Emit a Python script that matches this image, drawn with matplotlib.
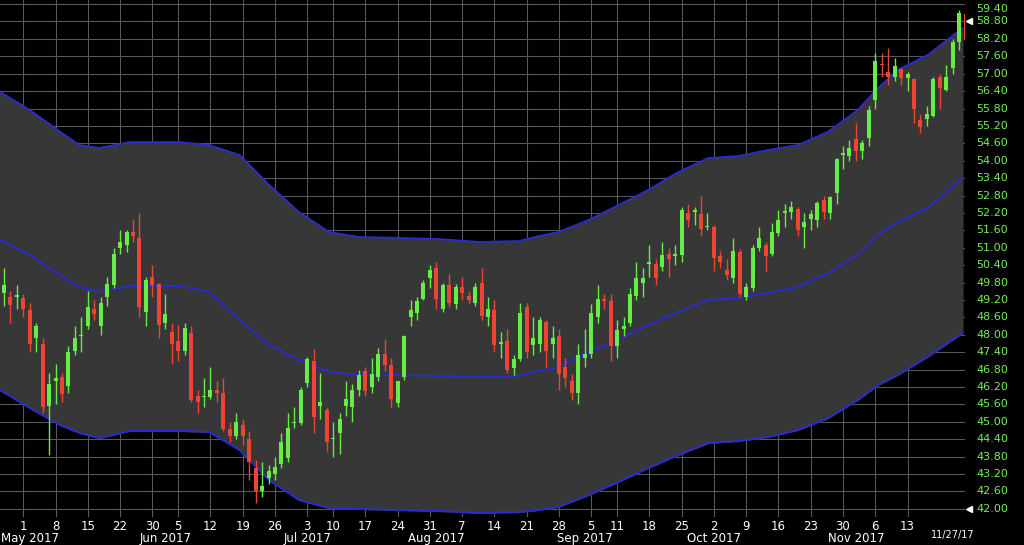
import matplotlib
matplotlib.use("Agg")
import matplotlib.pyplot as plt
import numpy as np
import pandas as pd

plt.rcParams['font.family'] = ['Liberation Sans Narrow', 'DejaVu Sans']

# daily candles, Apr 26 2017 .. Nov 27 2017
opens = [49.44, 49.3, 49.3, 49.27, 48.85, 47.9, 47.7, 45.55, 46.4, 46.55,
         46.25, 47.45, 47.95, 48.3, 48.88, 48.3, 49.3, 49.7, 51.0, 51.1,
         51.55, 51.35, 48.8, 50.0, 49.75, 48.4, 48.1, 47.8, 47.45, 48.05,
         45.9, 45.85, 45.85, 46.1, 46.0, 44.75, 44.5, 44.9, 44.4, 43.4,
         42.6, 43.05, 43.2, 43.55, 43.75, 44.95, 44.95, 46.35, 47.1, 45.55,
         45.4, 44.4, 44.6, 45.55, 45.5, 46.1, 46.75, 46.2, 46.55, 47.35,
         46.95, 45.65, 46.55, 48.6, 48.75, 49.25, 49.95, 50.3, 48.9, 49.7,
         49.05, 49.65, 49.35, 49.1, 49.8, 48.6, 48.85, 47.7, 47.8, 46.85,
         47.15, 48.95, 47.65, 47.7, 48.45, 47.7, 47.95, 46.9, 46.4, 46.0,
         47.2, 47.35, 48.6, 49.2, 49.15, 47.6, 48.2, 48.4, 49.35, 49.8,
         50.45, 50.45, 50.35, 50.8, 50.7, 50.75, 52.2, 52.25, 52.15, 51.7,
         51.7, 50.7, 50.25, 49.95, 50.85, 49.3, 49.6, 51.0, 51.1, 50.8,
         51.5, 52.2, 52.25, 52.35, 51.7, 52.0, 51.95, 52.65, 52.2, 52.9,
         54.2, 54.15, 54.75, 54.35, 54.8, 56.1, 57.35, 57.05, 56.9, 57.15,
         56.85, 56.8, 55.4, 55.45, 55.55, 56.9, 56.45, 57.2, 58.1, 59.05]
closes = [49.72, 49.03, 49.38, 48.9, 47.7, 48.3, 45.5, 46.3, 46.5, 45.95,
          47.4, 47.9, 48.0, 48.95, 48.7, 49.1, 49.75, 50.8, 51.2, 51.55,
          51.4, 48.95, 49.9, 49.7, 48.35, 48.7, 47.7, 47.45, 48.25, 45.75,
          45.7, 45.9, 46.1, 46.0, 44.75, 44.5, 45.0, 44.5, 43.6, 42.6,
          42.8, 43.3, 43.45, 44.3, 44.8, 45.0, 46.1, 47.15, 45.15, 45.7,
          44.3, 44.45, 45.1, 45.8, 46.1, 46.6, 46.05, 46.65, 47.35, 46.95,
          45.8, 46.4, 47.95, 48.85, 49.15, 49.8, 50.25, 49.25, 49.7, 49.1,
          49.65, 49.45, 49.2, 49.65, 48.65, 48.9, 47.65, 47.72, 46.8, 47.15,
          48.75, 47.4, 47.9, 48.5, 47.45, 47.9, 46.65, 46.5, 46.0, 47.3,
          47.35, 48.75, 49.25, 49.18, 47.6, 48.15, 48.3, 49.4, 49.95, 49.95,
          50.47, 49.95, 50.75, 50.6, 50.8, 52.3, 51.95, 52.28, 51.65, 51.75,
          50.65, 50.5, 50.05, 50.9, 49.4, 49.65, 51.0, 51.35, 50.7, 51.55,
          51.95, 52.25, 52.4, 51.6, 51.9, 52.15, 52.55, 52.25, 52.75, 54.05,
          54.2, 54.45, 54.35, 54.6, 55.75, 57.45, 57.3, 56.9, 57.25, 56.85,
          57.0, 55.8, 55.15, 55.6, 56.8, 56.5, 56.9, 58.1, 59.1, 58.2]
highs = [50.3, 49.5, 49.7, 49.4, 49.1, 48.4, 47.9, 46.7, 47.0, 46.7,
         47.6, 48.3, 48.6, 49.5, 49.2, 49.3, 50.0, 51.0, 51.6, 51.6,
         52.0, 52.2, 50.0, 50.4, 49.8, 49.4, 48.4, 48.35, 48.4, 48.3,
         46.1, 46.5, 46.9, 46.4, 46.5, 45.0, 45.3, 45.1, 44.7, 43.7,
         43.6, 43.5, 43.8, 44.6, 45.3, 45.5, 46.2, 47.25, 47.5, 46.7,
         45.5, 45.0, 45.3, 46.4, 46.3, 46.8, 46.9, 47.2, 47.55, 47.85,
         47.2, 46.4, 48.0, 49.2, 49.3, 49.9, 50.4, 50.5, 49.8, 50.1,
         49.75, 50.0, 49.5, 49.8, 50.3, 49.3, 49.2, 48.1, 48.2, 47.3,
         49.1, 49.1, 48.6, 48.6, 48.5, 48.3, 48.2, 47.2, 46.65, 47.7,
         48.2, 49.05, 49.7, 49.4, 49.4, 48.5, 48.6, 49.6, 50.5, 50.3,
         51.1, 50.6, 51.2, 51.0, 51.1, 52.4, 52.5, 52.4, 52.8, 52.2,
         51.8, 50.9, 50.6, 51.35, 50.95, 49.8, 51.1, 51.7, 51.2, 51.85,
         52.3, 52.5, 52.6, 52.4, 52.2, 52.3, 52.6, 52.8, 52.8, 54.1,
         54.5, 54.7, 55.3, 54.7, 55.9, 57.7, 57.7, 57.9, 57.55, 57.2,
         57.05, 56.85, 55.6, 55.9, 56.9, 57.0, 57.3, 58.2, 59.2, 59.1]
lows = [49.0, 48.4, 48.9, 48.6, 47.4, 47.4, 45.3, 43.85, 45.6, 45.7,
        46.0, 47.3, 47.4, 48.2, 48.5, 48.0, 49.0, 49.6, 50.8, 50.85,
        51.2, 48.6, 48.3, 49.3, 47.9, 48.2, 47.0, 47.1, 47.3, 45.7,
        45.3, 45.5, 45.8, 45.7, 44.7, 44.3, 44.4, 44.2, 43.0, 42.2,
        42.4, 42.85, 43.0, 43.4, 43.6, 44.8, 44.9, 46.2, 44.6, 45.1,
        44.0, 43.8, 43.9, 45.2, 45.0, 45.9, 45.9, 46.0, 46.4, 46.75,
        45.5, 45.5, 46.45, 48.3, 48.5, 49.2, 49.6, 48.9, 48.8, 48.95,
        48.9, 49.2, 49.1, 49.0, 48.5, 48.3, 47.4, 47.2, 46.7, 46.6,
        47.1, 47.2, 47.3, 47.4, 46.9, 47.2, 46.1, 46.2, 45.75, 45.6,
        46.9, 47.2, 48.4, 48.9, 47.1, 47.2, 47.95, 48.3, 49.2, 49.3,
        50.0, 49.7, 50.2, 50.0, 50.4, 50.5, 51.7, 51.8, 51.4, 51.6,
        50.2, 50.3, 49.9, 49.8, 49.3, 49.2, 49.5, 50.9, 50.2, 50.7,
        51.4, 51.7, 52.0, 51.4, 51.0, 51.6, 51.7, 52.0, 52.0, 52.5,
        53.7, 54.0, 54.0, 54.05, 54.5, 55.8, 56.9, 56.6, 56.75, 56.6,
        56.4, 55.3, 54.95, 55.2, 55.5, 55.8, 56.4, 57.0, 57.8, 57.6]

# bollinger bands read at trading-day positions
band_pos = [-0.6, 4.0, 8.7, 11.7, 14.8, 19.5, 27.2, 31.8, 36.5, 41.1, 45.7,
            50.4, 55.0, 61.2, 67.4, 73.6, 79.8, 82.8, 85.9, 90.6, 95.2, 99.8,
            104.5, 109.1, 113.8, 118.4, 123.0, 127.7, 132.3, 135.4, 138.5,
            143.1, 148.5]
upper = [56.37, 55.75, 55.0, 54.54, 54.44, 54.64, 54.64, 54.54, 54.2, 53.16,
         52.23, 51.54, 51.37, 51.34, 51.3, 51.2, 51.23, 51.4, 51.54, 51.96,
         52.47, 52.99, 53.61, 54.09, 54.16, 54.37, 54.54, 55.0, 55.75, 56.5,
         57.13, 57.64, 58.57]
middle = [51.27, 50.75, 50.06, 49.65, 49.48, 49.68, 49.68, 49.48, 48.51, 47.65,
          47.13, 46.72, 46.61, 46.61, 46.58, 46.54, 46.58, 46.75, 46.89, 47.41,
          47.82, 48.34, 48.79, 49.2, 49.27, 49.44, 49.65, 50.13, 50.75, 51.44,
          51.89, 52.37, 53.4]
lower = [46.1, 45.48, 44.89, 44.62, 44.44, 44.69, 44.69, 44.65, 44.03, 42.99,
         42.31, 42.03, 42.0, 41.96, 41.93, 41.86, 41.89, 41.96, 42.07, 42.48,
         42.93, 43.41, 43.86, 44.27, 44.34, 44.48, 44.72, 45.13, 45.76, 46.27,
         46.62, 47.24, 48.06]

holidays = pd.to_datetime(["2017-05-29", "2017-07-04", "2017-09-04", "2017-11-23"])
days = pd.bdate_range("2017-03-01", "2017-11-27")
days = days[~days.isin(holidays)][-len(closes):]

fig = plt.figure(figsize=(10.24, 5.45), dpi=100, facecolor="black")
ax = fig.add_axes([0, 28 / 545, 965 / 1024, 517 / 545], facecolor="black")

x = np.arange(len(closes))
ax.fill_between(band_pos, lower, upper, color="#373737", zorder=1)
for band in (upper, middle, lower):
    ax.plot(band_pos, band, color="#2a2ad8", lw=1.3, zorder=3)

price_ticks = np.round(np.arange(42.0, 59.41, 0.6), 2)
ax.set_yticks(price_ticks)
ax.set_ylim(41.72, 59.54)
ax.set_xlim(-0.6, 148.9)

# week ticks (first trading day of each week) and month starts
wk = pd.Series(days).dt.isocalendar().week.values
week_idx = [i for i in range(1, len(days)) if wk[i] != wk[i - 1] and days[i] >= pd.Timestamp("2017-05-01")]
week_idx = [i for i in week_idx if days[i] <= pd.Timestamp("2017-11-17")]
mon = np.array([d.month for d in days])
month_idx = [i for i in range(1, len(days)) if mon[i] != mon[i - 1]]

ax.set_xticks(week_idx)
ax.set_xticklabels([])
ax.tick_params(length=0)
ax.set_yticklabels([])
ax.grid(True, color="#585858", lw=0.8, zorder=0)
ax.set_axisbelow(True)
for s in ax.spines.values():
    s.set_visible(False)

up = "#66ee44"
dn = "#ee4433"
for i in x:
    c = up if closes[i] >= opens[i] else dn
    ax.vlines(i, lows[i], highs[i], color=c, lw=1.0, zorder=4)
    lo, hi = sorted((opens[i], closes[i]))
    ax.bar(i, max(hi - lo, 0.05), bottom=lo, width=0.62, color=c, zorder=5)

tr = ax.get_xaxis_transform()
for i in week_idx:
    ax.text(i, -3 / 517, str(days[i].day), transform=tr, color="white",
            fontsize=8.5, ha="center", va="top", clip_on=False)
for k, i in enumerate(month_idx):
    ax.text(i if k else -0.4, -15 / 517, days[i].strftime("%b %Y"), transform=tr,
            color="white", fontsize=8.5, ha="center" if k else "left", va="top",
            clip_on=False)
ax.text(len(closes) - 3, -13 / 517, "11/27/17", transform=tr, color="white",
        fontsize=7, ha="center", va="top", clip_on=False)

for p in price_ticks:
    ax.text(1.012, p, f"{p:.2f}", transform=ax.get_yaxis_transform(),
            color="#77ee55", fontsize=8, ha="left",
            va="center" if p < 59 else "top", clip_on=False)
ax.plot([1.004], [58.8], marker="<", color="white", ms=4,
        transform=ax.get_yaxis_transform(), clip_on=False)
ax.plot([1.004], [42.0], marker="<", color="white", ms=4,
        transform=ax.get_yaxis_transform(), clip_on=False)

fig.savefig("out.png", dpi=100, facecolor="black")
